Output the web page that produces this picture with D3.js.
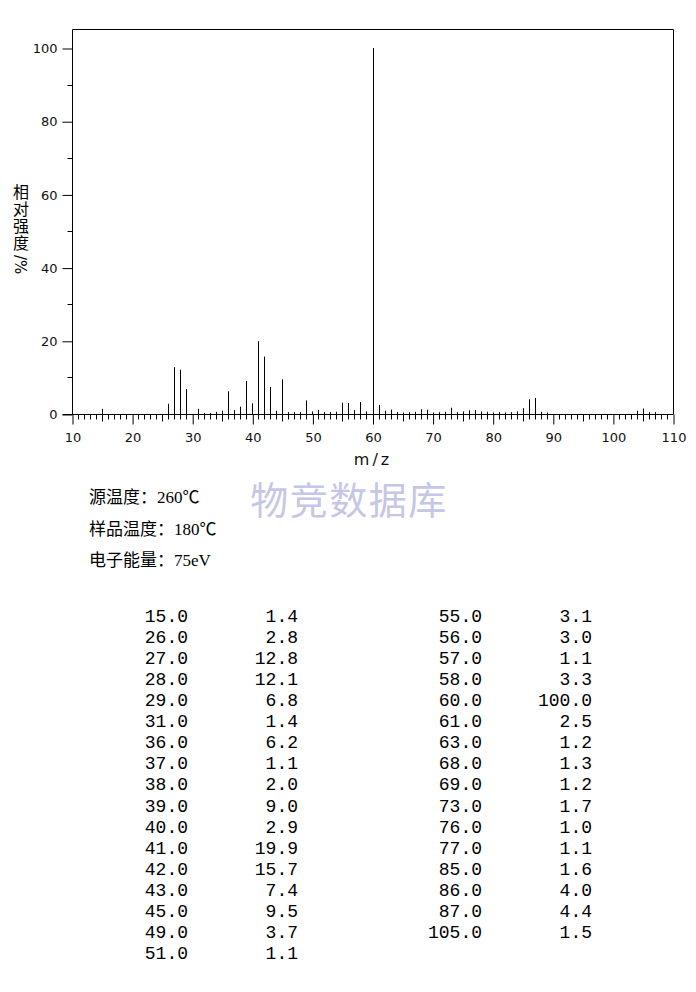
<!DOCTYPE html>
<html>
<head>
<meta charset="utf-8">
<script src="https://cdn.jsdelivr.net/npm/d3@7"></script>
<style>
  html, body { margin: 0; padding: 0; background: #fff; }
  svg { display: block; }
</style>
</head>
<body>
<svg id="chart" width="696" height="992"></svg>
<script>
// Listed peaks (m/z, relative intensity %)
const tableMz = [15,26,27,28,29,31,36,37,38,39,40,41,42,43,45,49,51,
                 55,56,57,58,60,61,63,68,69,73,76,77,85,86,87,105];
const tableInt = [1.4,2.8,12.8,12.1,6.8,1.4,6.2,1.1,2.0,9.0,2.9,19.9,15.7,7.4,9.5,3.7,1.1,
                  3.1,3.0,1.1,3.3,100.0,2.5,1.2,1.3,1.2,1.7,1.0,1.1,1.6,4.0,4.4,1.5];
// Small unlisted peaks (estimated)
const minorMz = [32,33,34,35,44,46,47,48,50,52,53,54,59,62,64,65,66,67,70,71,72,74,75,78,79,
                 80,81,82,83,84,88,89,104,106,107];
const minorInt = [0.3,0.3,0.6,0.9,0.9,0.5,0.5,0.5,0.7,0.5,0.5,0.6,0.7,0.9,0.5,0.4,0.5,0.6,0.4,0.5,0.6,0.5,0.7,0.7,0.6,
                  0.4,0.5,0.4,0.5,0.7,0.6,0.4,0.9,0.5,0.5];
const yTicksMajor = [0,20,40,60,80,100];
const yTicksMinor = [10,30,50,70,90];
const xTicksMajor = [10,20,30,40,50,60,70,80,90,100,110];
const yTitleText = "相对强度";
const yTitleUnit = "/%";
const conditions = ["源温度：260℃", "样品温度：180℃", "电子能量：75eV"];
const leftRows = 17;

const svg = d3.select("#chart");
const x = d3.scaleLinear().domain([10,110]).range([72,673]);
const y = d3.scaleLinear().domain([0,100]).range([414,48]);
const px = v => Math.round(v) + 0.5;

const peaks = tableMz.map((m,i)=>({m, v: tableInt[i]}))
  .concat(minorMz.map((m,i)=>({m, v: minorInt[i]})));

// frame
const g = svg.append("g").attr("stroke","#000").attr("stroke-width",1).attr("fill","none");
g.append("path").attr("d", `M${px(x(10))},${px(y(0))}V${px(30)-1}H${px(x(110))}V${px(y(0))}`);
g.append("line").attr("x1", px(x(10))-10).attr("x2", px(x(110))).attr("y1", px(y(0))).attr("y2", px(y(0)));

// x minor / mid ticks
const xMinor = d3.range(11,110).filter(d => d % 10 !== 0);
g.selectAll(".xt").data(xMinor).join("line")
  .attr("x1", d => px(x(d))).attr("x2", d => px(x(d)))
  .attr("y1", px(y(0))).attr("y2", d => px(y(0)) + (d % 5 === 0 ? 7 : 5));

// x axis majors with labels
const xAxis = d3.axisBottom(x).tickValues(xTicksMajor).tickSize(10).tickPadding(8).tickFormat(d3.format("d"));
const xa = svg.append("g").attr("transform", `translate(0.5,${px(y(0))})`).call(xAxis);
xa.select(".domain").remove();
xa.selectAll("line").attr("stroke","#000");
xa.selectAll("text").attr("font-family","DejaVu Sans, Verdana, sans-serif").attr("font-size",13).attr("fill","#111");

// y axis
const yAxis = d3.axisLeft(y).tickValues(yTicksMajor).tickSize(10).tickPadding(5).tickFormat(d3.format("d"));
const ya = svg.append("g").attr("transform", `translate(${px(x(10))},0.5)`).call(yAxis);
ya.select(".domain").remove();
ya.selectAll("line").attr("stroke","#000");
ya.selectAll("text").attr("font-family","DejaVu Sans, Verdana, sans-serif").attr("font-size",13).attr("fill","#111");
g.selectAll(".ym").data(yTicksMinor).join("line")
  .attr("x1", px(x(10)) - 5).attr("x2", px(x(10)))
  .attr("y1", d => px(y(d))).attr("y2", d => px(y(d)));

// peaks
svg.append("g").attr("stroke","#000").attr("stroke-width",1)
  .selectAll("line").data(peaks).join("line")
  .attr("x1", d => px(x(d.m))).attr("x2", d => px(x(d.m)))
  .attr("y1", px(y(0))).attr("y2", d => y(d.v));

// x title
svg.append("text").attr("x", 373).attr("y", 465).attr("text-anchor","middle")
  .attr("font-family","DejaVu Sans, Verdana, sans-serif").attr("font-size",16)
  .attr("letter-spacing", 3).attr("fill","#111").text("m/z");

// y title (vertical CJK text + rotated unit)
svg.append("text").attr("x", 21).attr("y", 184)
  .style("writing-mode","vertical-rl")
  .attr("font-family","'Noto Sans CJK SC', sans-serif").attr("font-size",16)
  .attr("letter-spacing", 1).attr("fill","#000").text(yTitleText);
svg.append("text").attr("transform","translate(15,255) rotate(90)")
  .attr("font-family","DejaVu Sans, sans-serif").attr("font-size",15).attr("fill","#000").text(yTitleUnit);

// watermark
svg.append("text").attr("x", 349).attr("y", 514).attr("text-anchor","middle")
  .attr("font-family","'Noto Sans CJK SC', sans-serif").attr("font-size",38)
  .attr("letter-spacing", 1.5).attr("fill","#c6c6e8").text("物竞数据库");

// conditions (ASCII parts in a serif face, the rest in the CJK face)
const segs = s => s.match(/[\x20-\x7e]+|[^\x20-\x7e]+/g);
const ct = svg.append("g").attr("font-size",17).attr("fill","#000");
ct.selectAll("text").data(conditions).join("text")
  .attr("x", 89).attr("y", (d,i) => 503 + i*31.5)
  .selectAll("tspan").data(d => segs(d)).join("tspan")
  .attr("font-family", d => /^[\x20-\x7e]+$/.test(d) ? "'Liberation Serif', serif" : "'Noto Sans CJK SC', sans-serif")
  .text(d => d);

// table
const rows = tableMz.map((m,i)=>({m, v: tableInt[i], col: i < leftRows ? 0 : 1, r: i < leftRows ? i : i - leftRows}));
const colX = [[188, 298],[482, 592]];
const tg = svg.append("g").attr("font-family","'Liberation Mono', 'Courier New', monospace")
  .attr("font-size",18).attr("fill","#000").attr("text-anchor","end");
tg.selectAll(".tm").data(rows).join("text")
  .attr("x", d => colX[d.col][0]).attr("y", d => 622 + d.r*21.06)
  .text(d => d.m.toFixed(1));
tg.selectAll(".tv").data(rows).join("text")
  .attr("x", d => colX[d.col][1]).attr("y", d => 622 + d.r*21.06)
  .text(d => d.v.toFixed(1));
</script>
</body>
</html>
